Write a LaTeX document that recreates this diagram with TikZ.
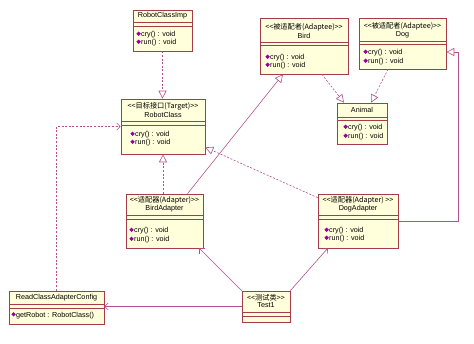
\documentclass[tikz,border=0pt]{standalone}
\usepackage{fontspec}
\newfontfamily\lsans{Liberation Sans}
\newfontfamily\cjk{Noto Sans CJK SC}
\usetikzlibrary{arrows.meta,fit,calc}
\definecolor{bcol}{RGB}{165,60,76}
\definecolor{bfill}{RGB}{255,255,220}
\definecolor{lcol}{RGB}{180,80,140}
\definecolor{opc}{RGB}{150,0,160}
\tikzset{
  clsbox/.style={draw=bcol, fill=bfill, line width=0.65pt, inner sep=0pt, rectangle},
  clssep/.style={draw=bcol, line width=0.65pt},
  ttl/.style={inner sep=0pt, font=\lsans\fontsize{7.2}{8}\selectfont, text=black},
  optxt/.style={inner sep=0pt, anchor=west, font=\lsans\fontsize{7.2}{8}\selectfont, text=black},
  conn/.style={draw=lcol, line width=0.6pt},
  dotline/.style={dash pattern=on 2pt off 1.6pt},
  realize/.style={conn, dotline, -{Triangle[fill=white,length=8pt,width=8pt]}},
  general/.style={conn, -{Triangle[fill=white,length=8pt,width=8pt]}},
  depend/.style={conn, dotline, -{Straight Barb[length=3.5pt,width=7pt]}},
  assoc/.style={conn, -{Straight Barb[length=3.5pt,width=7pt]}},
}
\newcommand\umlbox[7]{%
  \node[clsbox, fit={(#2,#3) (#4,#5)}] (#1) {};
  \draw[clssep] (#2,#6) -- (#4,#6);
  \draw[clssep] (#2,#7) -- (#4,#7);}
\newcommand\opline[4]{%
  \node[optxt] (#1) at (#2,#3) {#4};
  \fill[opc] ($(#1.west)+(-2.4,-1.2)$) +(0,2.2pt) -- +(2.2pt,0) -- +(0,-2.2pt) -- +(-2.2pt,0) -- cycle;}
\begin{document}
\begin{tikzpicture}[x=1pt,y=-1pt]
\fill[white] (0,0) rectangle (474,343);
\useasboundingbox (0,0) rectangle (474,343);

% RobotClassImp
\umlbox{imp}{133}{10}{192}{51}{22}{26}
\node[ttl] (imp-n) at (162.5,16) {RobotClassImp};
\opline{imp-cry}{141}{35}{cry() : void}
\opline{imp-run}{141}{43}{run() : void}

% RobotClass
\umlbox{rc}{121}{99}{205}{154}{121}{125}
\node[ttl] (rc-st) at (163,106) {\cjk <<目标接口(Target)>>};
\node[ttl] (rc-n) at (163,114.5) {RobotClass};
\opline{rc-cry}{135}{135}{cry() : void}
\opline{rc-run}{135}{143}{run() : void}

% Bird
\umlbox{bird}{260}{18}{348}{74}{42}{45}
\node[ttl] (bird-st) at (304,27) {\cjk <<被适配者(Adaptee)>>};
\node[ttl] (bird-n) at (304,35.5) {Bird};
\opline{bird-cry}{270}{58}{cry() : void}
\opline{bird-run}{270}{66}{run() : void}

% Dog
\umlbox{dog}{359}{18}{446}{69}{41}{44}
\node[ttl] (dog-st) at (402.5,26) {\cjk <<被适配者(Adaptee)>>};
\node[ttl] (dog-n) at (402.5,34.5) {Dog};
\opline{dog-cry}{368}{53}{cry() : void}
\opline{dog-run}{368}{62}{run() : void}

% Animal
\umlbox{animal}{337}{103}{387}{144}{117}{120}
\node[ttl] (animal-n) at (362,110) {Animal};
\opline{animal-cry}{348}{128}{cry() : void}
\opline{animal-run}{348}{137}{run() : void}

% BirdAdapter
\umlbox{ba}{126}{194}{203}{248}{215}{219}
\node[ttl] (ba-st) at (164.5,200.5) {\cjk <<适配器(Adapter)>>};
\node[ttl] (ba-n) at (164.5,209) {BirdAdapter};
\opline{ba-cry}{134}{231}{cry() : void}
\opline{ba-run}{134}{240}{run() : void}

% DogAdapter
\umlbox{da}{318}{194}{398}{248}{215}{219}
\node[ttl] (da-st) at (358,200.5) {\cjk <<适配器(Adapter) >>};
\node[ttl] (da-n) at (358,209) {DogAdapter};
\opline{da-cry}{329}{231}{cry() : void}
\opline{da-run}{329}{239}{run() : void}

% ReadClassAdapterConfig
\umlbox{cfg}{9}{291}{104}{324}{304}{308}
\node[ttl] (cfg-n) at (56.5,297.5) {ReadClassAdapterConfig};
\opline{cfg-get}{16}{315.5}{getRobot : RobotClass()}

% Test1
\umlbox{t1}{242}{291}{290}{322}{312}{316}
\node[ttl] (t1-st) at (266,297.5) {\cjk <<测试类>>};
\node[ttl] (t1-n) at (266,305.5) {Test1};

% connectors
\draw[realize] (imp.south) -- (imp.south |- rc.north);
\draw[realize] (ba.north -| rc.south) -- (rc.south);
\draw[realize] ($(da.north west)+(0,4)$) -- ($(rc.south east)+(0,-7)$);
\draw[general] ($(ba.north)+(23,0)$) -- ($(bird.south)+(-21,0)$);
\draw[realize] ($(bird.south)+(18,0)$) -- ($(animal.north)+(-18,0)$);
\draw[realize] ($(dog.south)+(-14.5,0)$) -- ($(animal.north)+(9,0)$);
\coordinate (bend) at (458,52);
\draw[general] (da.east) -| (bend) -- (bend -| dog.east);
\draw[depend] (cfg.north) |- (rc.west);
\draw[assoc] (t1.north west) -- ($(ba.south east)+(-4,0)$);
\draw[assoc] (t1.north east) -- ($(da.south west)+(10,0)$);
\draw[assoc] (t1.west) -- (t1.west -| cfg.east);
\end{tikzpicture}
\end{document}
